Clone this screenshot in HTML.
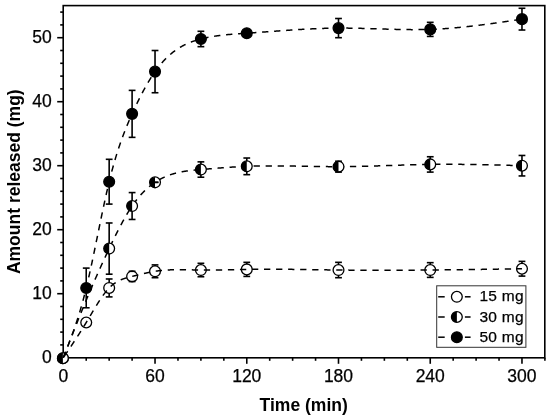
<!DOCTYPE html>
<html><head><meta charset="utf-8"><style>
html,body{margin:0;padding:0;background:#fff;width:550px;height:420px;overflow:hidden}
svg{display:block}
text{font-family:"Liberation Sans",Arial,sans-serif;stroke:#000;stroke-width:0.25px}
text[font-weight="bold"]{stroke:none}
</style></head><body>
<svg width="550" height="420" viewBox="0 0 550 420">
<rect width="550" height="420" fill="#fff"/>
<g fill="none" stroke="#000" stroke-width="1.6"><rect x="63.20" y="5.60" width="481.60" height="352.20" fill="none" stroke="#000" stroke-width="1.6"/>
<line x1="57.20" y1="357.70" x2="63.20" y2="357.70"/>
<line x1="60.20" y1="344.90" x2="63.20" y2="344.90"/>
<line x1="60.20" y1="332.10" x2="63.20" y2="332.10"/>
<line x1="60.20" y1="319.30" x2="63.20" y2="319.30"/>
<line x1="60.20" y1="306.50" x2="63.20" y2="306.50"/>
<line x1="57.20" y1="293.70" x2="63.20" y2="293.70"/>
<line x1="60.20" y1="280.90" x2="63.20" y2="280.90"/>
<line x1="60.20" y1="268.10" x2="63.20" y2="268.10"/>
<line x1="60.20" y1="255.30" x2="63.20" y2="255.30"/>
<line x1="60.20" y1="242.50" x2="63.20" y2="242.50"/>
<line x1="57.20" y1="229.70" x2="63.20" y2="229.70"/>
<line x1="60.20" y1="216.90" x2="63.20" y2="216.90"/>
<line x1="60.20" y1="204.10" x2="63.20" y2="204.10"/>
<line x1="60.20" y1="191.30" x2="63.20" y2="191.30"/>
<line x1="60.20" y1="178.50" x2="63.20" y2="178.50"/>
<line x1="57.20" y1="165.70" x2="63.20" y2="165.70"/>
<line x1="60.20" y1="152.90" x2="63.20" y2="152.90"/>
<line x1="60.20" y1="140.10" x2="63.20" y2="140.10"/>
<line x1="60.20" y1="127.30" x2="63.20" y2="127.30"/>
<line x1="60.20" y1="114.50" x2="63.20" y2="114.50"/>
<line x1="57.20" y1="101.70" x2="63.20" y2="101.70"/>
<line x1="60.20" y1="88.90" x2="63.20" y2="88.90"/>
<line x1="60.20" y1="76.10" x2="63.20" y2="76.10"/>
<line x1="60.20" y1="63.30" x2="63.20" y2="63.30"/>
<line x1="60.20" y1="50.50" x2="63.20" y2="50.50"/>
<line x1="57.20" y1="37.70" x2="63.20" y2="37.70"/>
<line x1="60.20" y1="24.90" x2="63.20" y2="24.90"/>
<line x1="60.20" y1="12.10" x2="63.20" y2="12.10"/>
<line x1="63.30" y1="357.80" x2="63.30" y2="363.80"/>
<line x1="86.23" y1="357.80" x2="86.23" y2="360.80"/>
<line x1="109.17" y1="357.80" x2="109.17" y2="360.80"/>
<line x1="132.10" y1="357.80" x2="132.10" y2="360.80"/>
<line x1="155.03" y1="357.80" x2="155.03" y2="363.80"/>
<line x1="177.97" y1="357.80" x2="177.97" y2="360.80"/>
<line x1="200.90" y1="357.80" x2="200.90" y2="360.80"/>
<line x1="223.83" y1="357.80" x2="223.83" y2="360.80"/>
<line x1="246.77" y1="357.80" x2="246.77" y2="363.80"/>
<line x1="269.70" y1="357.80" x2="269.70" y2="360.80"/>
<line x1="292.63" y1="357.80" x2="292.63" y2="360.80"/>
<line x1="315.57" y1="357.80" x2="315.57" y2="360.80"/>
<line x1="338.50" y1="357.80" x2="338.50" y2="363.80"/>
<line x1="361.44" y1="357.80" x2="361.44" y2="360.80"/>
<line x1="384.37" y1="357.80" x2="384.37" y2="360.80"/>
<line x1="407.30" y1="357.80" x2="407.30" y2="360.80"/>
<line x1="430.24" y1="357.80" x2="430.24" y2="363.80"/>
<line x1="453.17" y1="357.80" x2="453.17" y2="360.80"/>
<line x1="476.10" y1="357.80" x2="476.10" y2="360.80"/>
<line x1="499.04" y1="357.80" x2="499.04" y2="360.80"/>
<line x1="521.97" y1="357.80" x2="521.97" y2="363.80"/>
<line x1="544.90" y1="357.80" x2="544.90" y2="360.80"/></g>
<circle cx="62.90" cy="358.20" r="5.40" fill="#000" stroke="#000" stroke-width="1.30"/>
<circle cx="62.90" cy="358.20" r="5.40" fill="#fff" stroke="#000" stroke-width="1.30"/><path d="M62.90,352.80 A5.40,5.40 0 0 0 62.90,363.60 Z" fill="#000"/>
<polyline points="63.30,357.70 63.68,357.14 64.06,356.57 64.45,356.01 64.83,355.44 65.21,354.88 65.59,354.32 65.98,353.75 66.36,353.19 66.74,352.62 67.12,352.06 67.50,351.49 67.89,350.92 68.27,350.36 68.65,349.79 69.03,349.22 69.42,348.65 69.80,348.08 70.18,347.52 70.56,346.95 70.94,346.37 71.33,345.80 71.71,345.23 72.09,344.66 72.47,344.08 72.86,343.51 73.24,342.93 73.62,342.35 74.00,341.78 74.38,341.20 74.77,340.62 75.15,340.03 75.53,339.45 75.91,338.87 76.30,338.28 76.68,337.70 77.06,337.11 77.44,336.52 77.82,335.93 78.21,335.34 78.59,334.74 78.97,334.15 79.35,333.55 79.74,332.95 80.12,332.35 80.50,331.75 80.88,331.15 81.26,330.54 81.65,329.94 82.03,329.33 82.41,328.72 82.79,328.10 83.18,327.49 83.56,326.87 83.94,326.26 84.32,325.63 84.70,325.01 85.09,324.39 85.47,323.76 85.85,323.13 86.23,322.50 86.62,321.87 87.00,321.23 87.38,320.59 87.76,319.95 88.14,319.31 88.53,318.67 88.91,318.03 89.29,317.38 89.67,316.74 90.06,316.10 90.44,315.45 90.82,314.81 91.20,314.16 91.58,313.52 91.97,312.87 92.35,312.23 92.73,311.59 93.11,310.95 93.50,310.31 93.88,309.67 94.26,309.03 94.64,308.40 95.02,307.77 95.41,307.14 95.79,306.52 96.17,305.89 96.55,305.27 96.94,304.66 97.32,304.04 97.70,303.43 98.08,302.83 98.46,302.23 98.85,301.63 99.23,301.04 99.61,300.45 99.99,299.87 100.38,299.29 100.76,298.72 101.14,298.15 101.52,297.59 101.90,297.04 102.29,296.49 102.67,295.95 103.05,295.42 103.43,294.89 103.82,294.37 104.20,293.85 104.58,293.35 104.96,292.85 105.34,292.36 105.73,291.88 106.11,291.40 106.49,290.94 106.87,290.48 107.26,290.03 107.64,289.60 108.02,289.17 108.40,288.75 108.78,288.34 109.17,287.94 109.55,287.55 109.93,287.17 110.31,286.80 110.70,286.44 111.08,286.09 111.46,285.75 111.84,285.42 112.22,285.10 112.61,284.78 112.99,284.48 113.37,284.18 113.75,283.90 114.14,283.62 114.52,283.34 114.90,283.08 115.28,282.82 115.66,282.57 116.05,282.33 116.43,282.10 116.81,281.87 117.19,281.65 117.58,281.43 117.96,281.22 118.34,281.02 118.72,280.83 119.10,280.64 119.49,280.45 119.87,280.27 120.25,280.10 120.63,279.93 121.02,279.77 121.40,279.61 121.78,279.46 122.16,279.31 122.54,279.16 122.93,279.02 123.31,278.88 123.69,278.75 124.07,278.62 124.46,278.49 124.84,278.37 125.22,278.25 125.60,278.13 125.98,278.02 126.37,277.91 126.75,277.80 127.13,277.69 127.51,277.59 127.90,277.48 128.28,277.38 128.66,277.28 129.04,277.18 129.42,277.09 129.81,276.99 130.19,276.89 130.57,276.80 130.95,276.70 131.34,276.61 131.72,276.51 132.10,276.42 132.48,276.33 132.86,276.23 133.25,276.14 133.63,276.04 134.01,275.95 134.39,275.85 134.78,275.75 135.16,275.66 135.54,275.56 135.92,275.47 136.30,275.37 136.69,275.28 137.07,275.18 137.45,275.09 137.83,274.99 138.22,274.90 138.60,274.80 138.98,274.71 139.36,274.61 139.75,274.52 140.13,274.43 140.51,274.33 140.89,274.24 141.27,274.15 141.66,274.05 142.04,273.96 142.42,273.87 142.80,273.78 143.19,273.69 143.57,273.60 143.95,273.51 144.33,273.42 144.71,273.34 145.10,273.25 145.48,273.16 145.86,273.08 146.24,272.99 146.63,272.91 147.01,272.82 147.39,272.74 147.77,272.66 148.15,272.58 148.54,272.50 148.92,272.42 149.30,272.34 149.68,272.26 150.07,272.19 150.45,272.11 150.83,272.04 151.21,271.96 151.59,271.89 151.98,271.82 152.36,271.75 152.74,271.68 153.12,271.62 153.51,271.55 153.89,271.49 154.27,271.42 154.65,271.36 155.03,271.30 155.42,271.24 155.80,271.18 156.18,271.13 156.56,271.07 156.95,271.02 157.33,270.96 157.71,270.91 158.09,270.86 158.47,270.82 158.86,270.77 159.24,270.72 159.62,270.68 160.00,270.63 160.39,270.59 160.77,270.55 161.15,270.51 161.53,270.47 161.91,270.43 162.30,270.40 162.68,270.36 163.06,270.33 163.44,270.29 163.83,270.26 164.21,270.23 164.59,270.20 164.97,270.17 165.35,270.14 165.74,270.11 166.12,270.09 166.50,270.06 166.88,270.04 167.27,270.02 167.65,269.99 168.03,269.97 168.41,269.95 168.79,269.93 169.18,269.91 169.56,269.90 169.94,269.88 170.32,269.86 170.71,269.85 171.09,269.83 171.47,269.82 171.85,269.81 172.23,269.79 172.62,269.78 173.00,269.77 173.38,269.76 173.76,269.75 174.15,269.74 174.53,269.74 174.91,269.73 175.29,269.72 175.67,269.72 176.06,269.71 176.44,269.71 176.82,269.70 177.20,269.70 177.59,269.70 177.97,269.69 178.35,269.69 178.73,269.69 179.11,269.69 179.50,269.69 179.88,269.69 180.26,269.69 180.64,269.69 181.03,269.69 181.41,269.69 181.79,269.70 182.17,269.70 182.55,269.70 182.94,269.70 183.32,269.71 183.70,269.71 184.08,269.72 184.47,269.72 184.85,269.73 185.23,269.73 185.61,269.74 185.99,269.74 186.38,269.75 186.76,269.76 187.14,269.76 187.52,269.77 187.91,269.78 188.29,269.78 188.67,269.79 189.05,269.80 189.43,269.81 189.82,269.81 190.20,269.82 190.58,269.83 190.96,269.84 191.35,269.85 191.73,269.85 192.11,269.86 192.49,269.87 192.87,269.88 193.26,269.89 193.64,269.89 194.02,269.90 194.40,269.91 194.79,269.92 195.17,269.92 195.55,269.93 195.93,269.94 196.31,269.95 196.70,269.95 197.08,269.96 197.46,269.97 197.84,269.97 198.23,269.98 198.61,269.99 198.99,269.99 199.37,270.00 199.75,270.00 200.14,270.01 200.52,270.02 200.90,270.02 201.28,270.02 201.67,270.03 202.05,270.03 202.43,270.04 202.81,270.04 203.19,270.04 203.58,270.04 203.96,270.05 204.34,270.05 204.72,270.05 205.11,270.05 205.49,270.05 205.87,270.05 206.25,270.05 206.63,270.06 207.02,270.06 207.40,270.06 207.78,270.05 208.16,270.05 208.55,270.05 208.93,270.05 209.31,270.05 209.69,270.05 210.07,270.05 210.46,270.05 210.84,270.04 211.22,270.04 211.60,270.04 211.99,270.04 212.37,270.03 212.75,270.03 213.13,270.03 213.51,270.02 213.90,270.02 214.28,270.01 214.66,270.01 215.04,270.00 215.43,270.00 215.81,270.00 216.19,269.99 216.57,269.99 216.95,269.98 217.34,269.97 217.72,269.97 218.10,269.96 218.48,269.96 218.87,269.95 219.25,269.95 219.63,269.94 220.01,269.93 220.39,269.93 220.78,269.92 221.16,269.91 221.54,269.91 221.92,269.90 222.31,269.89 222.69,269.88 223.07,269.88 223.45,269.87 223.83,269.86 224.22,269.85 224.60,269.85 224.98,269.84 225.36,269.83 225.75,269.82 226.13,269.82 226.51,269.81 226.89,269.80 227.27,269.79 227.66,269.78 228.04,269.77 228.42,269.77 228.80,269.76 229.19,269.75 229.57,269.74 229.95,269.73 230.33,269.72 230.71,269.71 231.10,269.71 231.48,269.70 231.86,269.69 232.24,269.68 232.63,269.67 233.01,269.66 233.39,269.65 233.77,269.65 234.15,269.64 234.54,269.63 234.92,269.62 235.30,269.61 235.68,269.60 236.07,269.59 236.45,269.59 236.83,269.58 237.21,269.57 237.59,269.56 237.98,269.55 238.36,269.54 238.74,269.54 239.12,269.53 239.51,269.52 239.89,269.51 240.27,269.50 240.65,269.49 241.03,269.49 241.42,269.48 241.80,269.47 242.18,269.46 242.56,269.46 242.95,269.45 243.33,269.44 243.71,269.43 244.09,269.43 244.47,269.42 244.86,269.41 245.24,269.41 245.62,269.40 246.00,269.39 246.39,269.39 246.77,269.38 247.15,269.37 247.53,269.37 247.91,269.36 248.30,269.36 248.68,269.35 249.06,269.34 249.44,269.34 249.83,269.33 250.21,269.33 250.59,269.32 250.97,269.32 251.35,269.31 251.74,269.31 252.12,269.31 252.50,269.30 252.88,269.30 253.27,269.29 253.65,269.29 254.03,269.28 254.41,269.28 254.79,269.28 255.18,269.27 255.56,269.27 255.94,269.27 256.32,269.26 256.71,269.26 257.09,269.26 257.47,269.25 257.85,269.25 258.23,269.25 258.62,269.25 259.00,269.24 259.38,269.24 259.76,269.24 260.15,269.24 260.53,269.24 260.91,269.23 261.29,269.23 261.67,269.23 262.06,269.23 262.44,269.23 262.82,269.23 263.20,269.22 263.59,269.22 263.97,269.22 264.35,269.22 264.73,269.22 265.11,269.22 265.50,269.22 265.88,269.22 266.26,269.22 266.64,269.22 267.03,269.22 267.41,269.22 267.79,269.22 268.17,269.22 268.55,269.22 268.94,269.22 269.32,269.22 269.70,269.22 270.08,269.22 270.47,269.22 270.85,269.22 271.23,269.22 271.61,269.22 271.99,269.22 272.38,269.22 272.76,269.22 273.14,269.23 273.52,269.23 273.91,269.23 274.29,269.23 274.67,269.23 275.05,269.23 275.43,269.23 275.82,269.24 276.20,269.24 276.58,269.24 276.96,269.24 277.35,269.24 277.73,269.25 278.11,269.25 278.49,269.25 278.87,269.25 279.26,269.26 279.64,269.26 280.02,269.26 280.40,269.26 280.79,269.27 281.17,269.27 281.55,269.27 281.93,269.27 282.31,269.28 282.70,269.28 283.08,269.28 283.46,269.29 283.84,269.29 284.23,269.29 284.61,269.30 284.99,269.30 285.37,269.30 285.75,269.31 286.14,269.31 286.52,269.31 286.90,269.32 287.28,269.32 287.67,269.32 288.05,269.33 288.43,269.33 288.81,269.34 289.19,269.34 289.58,269.34 289.96,269.35 290.34,269.35 290.72,269.36 291.11,269.36 291.49,269.37 291.87,269.37 292.25,269.37 292.63,269.38 293.02,269.38 293.40,269.39 293.78,269.39 294.16,269.40 294.55,269.40 294.93,269.41 295.31,269.41 295.69,269.42 296.08,269.42 296.46,269.43 296.84,269.43 297.22,269.44 297.60,269.44 297.99,269.44 298.37,269.45 298.75,269.46 299.13,269.46 299.52,269.47 299.90,269.47 300.28,269.48 300.66,269.48 301.04,269.49 301.43,269.49 301.81,269.50 302.19,269.50 302.57,269.51 302.96,269.51 303.34,269.52 303.72,269.52 304.10,269.53 304.48,269.53 304.87,269.54 305.25,269.55 305.63,269.55 306.01,269.56 306.40,269.56 306.78,269.57 307.16,269.57 307.54,269.58 307.92,269.58 308.31,269.59 308.69,269.60 309.07,269.60 309.45,269.61 309.84,269.61 310.22,269.62 310.60,269.62 310.98,269.63 311.36,269.64 311.75,269.64 312.13,269.65 312.51,269.65 312.89,269.66 313.28,269.66 313.66,269.67 314.04,269.68 314.42,269.68 314.80,269.69 315.19,269.69 315.57,269.70 315.95,269.71 316.33,269.71 316.72,269.72 317.10,269.72 317.48,269.73 317.86,269.73 318.24,269.74 318.63,269.75 319.01,269.75 319.39,269.76 319.77,269.76 320.16,269.77 320.54,269.77 320.92,269.78 321.30,269.79 321.68,269.79 322.07,269.80 322.45,269.80 322.83,269.81 323.21,269.81 323.60,269.82 323.98,269.83 324.36,269.83 324.74,269.84 325.12,269.84 325.51,269.85 325.89,269.85 326.27,269.86 326.65,269.86 327.04,269.87 327.42,269.88 327.80,269.88 328.18,269.89 328.56,269.89 328.95,269.90 329.33,269.90 329.71,269.91 330.09,269.91 330.48,269.92 330.86,269.92 331.24,269.93 331.62,269.93 332.00,269.94 332.39,269.94 332.77,269.95 333.15,269.95 333.53,269.96 333.92,269.96 334.30,269.97 334.68,269.97 335.06,269.98 335.44,269.98 335.83,269.99 336.21,269.99 336.59,270.00 336.97,270.00 337.36,270.01 337.74,270.01 338.12,270.02 338.50,270.02 338.88,270.02 339.27,270.03 339.65,270.03 340.03,270.04 340.41,270.04 340.80,270.05 341.18,270.05 341.56,270.05 341.94,270.06 342.32,270.06 342.71,270.07 343.09,270.07 343.47,270.07 343.85,270.08 344.24,270.08 344.62,270.09 345.00,270.09 345.38,270.09 345.76,270.10 346.15,270.10 346.53,270.10 346.91,270.11 347.29,270.11 347.68,270.11 348.06,270.12 348.44,270.12 348.82,270.12 349.20,270.13 349.59,270.13 349.97,270.13 350.35,270.14 350.73,270.14 351.12,270.14 351.50,270.15 351.88,270.15 352.26,270.15 352.64,270.16 353.03,270.16 353.41,270.16 353.79,270.16 354.17,270.17 354.56,270.17 354.94,270.17 355.32,270.17 355.70,270.18 356.08,270.18 356.47,270.18 356.85,270.18 357.23,270.19 357.61,270.19 358.00,270.19 358.38,270.19 358.76,270.20 359.14,270.20 359.52,270.20 359.91,270.20 360.29,270.20 360.67,270.21 361.05,270.21 361.44,270.21 361.82,270.21 362.20,270.21 362.58,270.22 362.96,270.22 363.35,270.22 363.73,270.22 364.11,270.22 364.49,270.22 364.88,270.23 365.26,270.23 365.64,270.23 366.02,270.23 366.40,270.23 366.79,270.23 367.17,270.24 367.55,270.24 367.93,270.24 368.32,270.24 368.70,270.24 369.08,270.24 369.46,270.24 369.84,270.24 370.23,270.25 370.61,270.25 370.99,270.25 371.37,270.25 371.76,270.25 372.14,270.25 372.52,270.25 372.90,270.25 373.28,270.25 373.67,270.25 374.05,270.25 374.43,270.25 374.81,270.26 375.20,270.26 375.58,270.26 375.96,270.26 376.34,270.26 376.72,270.26 377.11,270.26 377.49,270.26 377.87,270.26 378.25,270.26 378.64,270.26 379.02,270.26 379.40,270.26 379.78,270.26 380.16,270.26 380.55,270.26 380.93,270.26 381.31,270.26 381.69,270.26 382.08,270.26 382.46,270.26 382.84,270.26 383.22,270.26 383.60,270.26 383.99,270.26 384.37,270.26 384.75,270.26 385.13,270.26 385.52,270.26 385.90,270.26 386.28,270.26 386.66,270.26 387.04,270.26 387.43,270.26 387.81,270.26 388.19,270.26 388.57,270.26 388.96,270.26 389.34,270.25 389.72,270.25 390.10,270.25 390.48,270.25 390.87,270.25 391.25,270.25 391.63,270.25 392.01,270.25 392.40,270.25 392.78,270.25 393.16,270.25 393.54,270.25 393.92,270.24 394.31,270.24 394.69,270.24 395.07,270.24 395.45,270.24 395.84,270.24 396.22,270.24 396.60,270.24 396.98,270.24 397.36,270.23 397.75,270.23 398.13,270.23 398.51,270.23 398.89,270.23 399.28,270.23 399.66,270.23 400.04,270.22 400.42,270.22 400.80,270.22 401.19,270.22 401.57,270.22 401.95,270.22 402.33,270.21 402.72,270.21 403.10,270.21 403.48,270.21 403.86,270.21 404.24,270.21 404.63,270.20 405.01,270.20 405.39,270.20 405.77,270.20 406.16,270.20 406.54,270.19 406.92,270.19 407.30,270.19 407.68,270.19 408.07,270.19 408.45,270.18 408.83,270.18 409.21,270.18 409.60,270.18 409.98,270.18 410.36,270.17 410.74,270.17 411.12,270.17 411.51,270.17 411.89,270.16 412.27,270.16 412.65,270.16 413.04,270.16 413.42,270.15 413.80,270.15 414.18,270.15 414.56,270.15 414.95,270.14 415.33,270.14 415.71,270.14 416.09,270.14 416.48,270.13 416.86,270.13 417.24,270.13 417.62,270.12 418.00,270.12 418.39,270.12 418.77,270.12 419.15,270.11 419.53,270.11 419.92,270.11 420.30,270.10 420.68,270.10 421.06,270.10 421.44,270.10 421.83,270.09 422.21,270.09 422.59,270.09 422.97,270.08 423.36,270.08 423.74,270.08 424.12,270.07 424.50,270.07 424.88,270.07 425.27,270.06 425.65,270.06 426.03,270.06 426.41,270.05 426.80,270.05 427.18,270.05 427.56,270.04 427.94,270.04 428.32,270.04 428.71,270.03 429.09,270.03 429.47,270.03 429.85,270.02 430.24,270.02 430.62,270.02 431.00,270.01 431.38,270.01 431.76,270.01 432.15,270.00 432.53,270.00 432.91,269.99 433.29,269.99 433.68,269.99 434.06,269.98 434.44,269.98 434.82,269.98 435.20,269.97 435.59,269.97 435.97,269.96 436.35,269.96 436.73,269.96 437.12,269.95 437.50,269.95 437.88,269.94 438.26,269.94 438.64,269.94 439.03,269.93 439.41,269.93 439.79,269.92 440.17,269.92 440.56,269.92 440.94,269.91 441.32,269.91 441.70,269.90 442.08,269.90 442.47,269.90 442.85,269.89 443.23,269.89 443.61,269.88 444.00,269.88 444.38,269.87 444.76,269.87 445.14,269.87 445.52,269.86 445.91,269.86 446.29,269.85 446.67,269.85 447.05,269.84 447.44,269.84 447.82,269.83 448.20,269.83 448.58,269.83 448.97,269.82 449.35,269.82 449.73,269.81 450.11,269.81 450.49,269.80 450.88,269.80 451.26,269.79 451.64,269.79 452.02,269.78 452.41,269.78 452.79,269.77 453.17,269.77 453.55,269.77 453.93,269.76 454.32,269.76 454.70,269.75 455.08,269.75 455.46,269.74 455.85,269.74 456.23,269.73 456.61,269.73 456.99,269.72 457.37,269.72 457.76,269.71 458.14,269.71 458.52,269.70 458.90,269.70 459.29,269.69 459.67,269.69 460.05,269.68 460.43,269.68 460.81,269.67 461.20,269.67 461.58,269.66 461.96,269.66 462.34,269.65 462.73,269.65 463.11,269.64 463.49,269.64 463.87,269.63 464.25,269.63 464.64,269.62 465.02,269.62 465.40,269.61 465.78,269.61 466.17,269.60 466.55,269.60 466.93,269.59 467.31,269.58 467.69,269.58 468.08,269.57 468.46,269.57 468.84,269.56 469.22,269.56 469.61,269.55 469.99,269.55 470.37,269.54 470.75,269.54 471.13,269.53 471.52,269.53 471.90,269.52 472.28,269.51 472.66,269.51 473.05,269.50 473.43,269.50 473.81,269.49 474.19,269.49 474.57,269.48 474.96,269.48 475.34,269.47 475.72,269.47 476.10,269.46 476.49,269.45 476.87,269.45 477.25,269.44 477.63,269.44 478.01,269.43 478.40,269.43 478.78,269.42 479.16,269.42 479.54,269.41 479.93,269.40 480.31,269.40 480.69,269.39 481.07,269.39 481.45,269.38 481.84,269.38 482.22,269.37 482.60,269.36 482.98,269.36 483.37,269.35 483.75,269.35 484.13,269.34 484.51,269.34 484.89,269.33 485.28,269.32 485.66,269.32 486.04,269.31 486.42,269.31 486.81,269.30 487.19,269.29 487.57,269.29 487.95,269.28 488.33,269.28 488.72,269.27 489.10,269.27 489.48,269.26 489.86,269.25 490.25,269.25 490.63,269.24 491.01,269.24 491.39,269.23 491.77,269.22 492.16,269.22 492.54,269.21 492.92,269.21 493.30,269.20 493.69,269.19 494.07,269.19 494.45,269.18 494.83,269.18 495.21,269.17 495.60,269.16 495.98,269.16 496.36,269.15 496.74,269.15 497.13,269.14 497.51,269.13 497.89,269.13 498.27,269.12 498.65,269.12 499.04,269.11 499.42,269.10 499.80,269.10 500.18,269.09 500.57,269.09 500.95,269.08 501.33,269.07 501.71,269.07 502.09,269.06 502.48,269.06 502.86,269.05 503.24,269.04 503.62,269.04 504.01,269.03 504.39,269.02 504.77,269.02 505.15,269.01 505.53,269.01 505.92,269.00 506.30,268.99 506.68,268.99 507.06,268.98 507.45,268.98 507.83,268.97 508.21,268.96 508.59,268.96 508.97,268.95 509.36,268.94 509.74,268.94 510.12,268.93 510.50,268.93 510.89,268.92 511.27,268.91 511.65,268.91 512.03,268.90 512.41,268.90 512.80,268.89 513.18,268.88 513.56,268.88 513.94,268.87 514.33,268.86 514.71,268.86 515.09,268.85 515.47,268.85 515.85,268.84 516.24,268.83 516.62,268.83 517.00,268.82 517.38,268.81 517.77,268.81 518.15,268.80 518.53,268.80 518.91,268.79 519.29,268.78 519.68,268.78 520.06,268.77 520.44,268.76 520.82,268.76 521.21,268.75 521.59,268.75 521.97,268.74" fill="none" stroke="#000" stroke-width="1.5" stroke-dasharray="6.3 5.74" stroke-dashoffset="-1.46"/>
<polyline points="63.30,357.70 63.68,356.72 64.06,355.74 64.45,354.76 64.83,353.77 65.21,352.79 65.59,351.81 65.98,350.83 66.36,349.85 66.74,348.87 67.12,347.89 67.50,346.91 67.89,345.93 68.27,344.95 68.65,343.98 69.03,343.00 69.42,342.02 69.80,341.04 70.18,340.07 70.56,339.09 70.94,338.12 71.33,337.15 71.71,336.17 72.09,335.20 72.47,334.23 72.86,333.26 73.24,332.29 73.62,331.32 74.00,330.35 74.38,329.38 74.77,328.42 75.15,327.45 75.53,326.49 75.91,325.53 76.30,324.57 76.68,323.61 77.06,322.65 77.44,321.69 77.82,320.73 78.21,319.78 78.59,318.82 78.97,317.87 79.35,316.92 79.74,315.97 80.12,315.02 80.50,314.08 80.88,313.13 81.26,312.19 81.65,311.25 82.03,310.31 82.41,309.37 82.79,308.44 83.18,307.50 83.56,306.57 83.94,305.64 84.32,304.71 84.70,303.79 85.09,302.86 85.47,301.94 85.85,301.02 86.23,300.10 86.62,299.18 87.00,298.27 87.38,297.36 87.76,296.45 88.14,295.54 88.53,294.64 88.91,293.73 89.29,292.83 89.67,291.93 90.06,291.03 90.44,290.14 90.82,289.25 91.20,288.35 91.58,287.47 91.97,286.58 92.35,285.69 92.73,284.81 93.11,283.93 93.50,283.05 93.88,282.17 94.26,281.30 94.64,280.42 95.02,279.55 95.41,278.68 95.79,277.82 96.17,276.95 96.55,276.09 96.94,275.22 97.32,274.36 97.70,273.51 98.08,272.65 98.46,271.80 98.85,270.94 99.23,270.09 99.61,269.24 99.99,268.40 100.38,267.55 100.76,266.71 101.14,265.87 101.52,265.03 101.90,264.19 102.29,263.35 102.67,262.52 103.05,261.68 103.43,260.85 103.82,260.02 104.20,259.19 104.58,258.37 104.96,257.54 105.34,256.72 105.73,255.90 106.11,255.08 106.49,254.26 106.87,253.44 107.26,252.63 107.64,251.82 108.02,251.01 108.40,250.20 108.78,249.39 109.17,248.58 109.55,247.77 109.93,246.97 110.31,246.17 110.70,245.37 111.08,244.57 111.46,243.77 111.84,242.98 112.22,242.19 112.61,241.40 112.99,240.61 113.37,239.83 113.75,239.04 114.14,238.26 114.52,237.49 114.90,236.71 115.28,235.94 115.66,235.17 116.05,234.41 116.43,233.64 116.81,232.88 117.19,232.13 117.58,231.37 117.96,230.62 118.34,229.88 118.72,229.13 119.10,228.39 119.49,227.66 119.87,226.93 120.25,226.20 120.63,225.48 121.02,224.76 121.40,224.04 121.78,223.33 122.16,222.62 122.54,221.92 122.93,221.22 123.31,220.53 123.69,219.84 124.07,219.15 124.46,218.47 124.84,217.80 125.22,217.13 125.60,216.46 125.98,215.81 126.37,215.15 126.75,214.50 127.13,213.86 127.51,213.22 127.90,212.59 128.28,211.96 128.66,211.34 129.04,210.72 129.42,210.11 129.81,209.51 130.19,208.91 130.57,208.32 130.95,207.74 131.34,207.16 131.72,206.59 132.10,206.02 132.48,205.46 132.86,204.91 133.25,204.36 133.63,203.82 134.01,203.29 134.39,202.76 134.78,202.24 135.16,201.72 135.54,201.21 135.92,200.71 136.30,200.22 136.69,199.73 137.07,199.24 137.45,198.76 137.83,198.29 138.22,197.82 138.60,197.36 138.98,196.91 139.36,196.46 139.75,196.01 140.13,195.57 140.51,195.14 140.89,194.71 141.27,194.29 141.66,193.87 142.04,193.46 142.42,193.06 142.80,192.66 143.19,192.26 143.57,191.87 143.95,191.49 144.33,191.11 144.71,190.73 145.10,190.36 145.48,190.00 145.86,189.64 146.24,189.28 146.63,188.93 147.01,188.59 147.39,188.24 147.77,187.91 148.15,187.58 148.54,187.25 148.92,186.93 149.30,186.61 149.68,186.30 150.07,185.99 150.45,185.68 150.83,185.38 151.21,185.08 151.59,184.79 151.98,184.50 152.36,184.22 152.74,183.94 153.12,183.66 153.51,183.39 153.89,183.12 154.27,182.86 154.65,182.60 155.03,182.34 155.42,182.09 155.80,181.84 156.18,181.59 156.56,181.35 156.95,181.11 157.33,180.88 157.71,180.64 158.09,180.42 158.47,180.19 158.86,179.97 159.24,179.75 159.62,179.54 160.00,179.33 160.39,179.12 160.77,178.91 161.15,178.71 161.53,178.52 161.91,178.32 162.30,178.13 162.68,177.94 163.06,177.75 163.44,177.57 163.83,177.39 164.21,177.22 164.59,177.04 164.97,176.87 165.35,176.71 165.74,176.54 166.12,176.38 166.50,176.22 166.88,176.06 167.27,175.91 167.65,175.76 168.03,175.61 168.41,175.47 168.79,175.32 169.18,175.18 169.56,175.04 169.94,174.91 170.32,174.78 170.71,174.65 171.09,174.52 171.47,174.39 171.85,174.27 172.23,174.15 172.62,174.03 173.00,173.92 173.38,173.80 173.76,173.69 174.15,173.58 174.53,173.47 174.91,173.37 175.29,173.27 175.67,173.17 176.06,173.07 176.44,172.97 176.82,172.88 177.20,172.78 177.59,172.69 177.97,172.60 178.35,172.52 178.73,172.43 179.11,172.35 179.50,172.26 179.88,172.18 180.26,172.11 180.64,172.03 181.03,171.95 181.41,171.88 181.79,171.81 182.17,171.74 182.55,171.67 182.94,171.60 183.32,171.54 183.70,171.47 184.08,171.41 184.47,171.35 184.85,171.29 185.23,171.23 185.61,171.17 185.99,171.11 186.38,171.06 186.76,171.00 187.14,170.95 187.52,170.90 187.91,170.85 188.29,170.80 188.67,170.75 189.05,170.70 189.43,170.65 189.82,170.61 190.20,170.56 190.58,170.52 190.96,170.48 191.35,170.43 191.73,170.39 192.11,170.35 192.49,170.31 192.87,170.27 193.26,170.23 193.64,170.19 194.02,170.15 194.40,170.12 194.79,170.08 195.17,170.04 195.55,170.01 195.93,169.97 196.31,169.94 196.70,169.90 197.08,169.87 197.46,169.84 197.84,169.80 198.23,169.77 198.61,169.74 198.99,169.70 199.37,169.67 199.75,169.64 200.14,169.61 200.52,169.57 200.90,169.54 201.28,169.51 201.67,169.48 202.05,169.44 202.43,169.41 202.81,169.38 203.19,169.35 203.58,169.31 203.96,169.28 204.34,169.25 204.72,169.22 205.11,169.18 205.49,169.15 205.87,169.12 206.25,169.09 206.63,169.05 207.02,169.02 207.40,168.99 207.78,168.96 208.16,168.93 208.55,168.89 208.93,168.86 209.31,168.83 209.69,168.80 210.07,168.77 210.46,168.73 210.84,168.70 211.22,168.67 211.60,168.64 211.99,168.61 212.37,168.58 212.75,168.54 213.13,168.51 213.51,168.48 213.90,168.45 214.28,168.42 214.66,168.39 215.04,168.36 215.43,168.33 215.81,168.30 216.19,168.27 216.57,168.24 216.95,168.21 217.34,168.18 217.72,168.14 218.10,168.11 218.48,168.08 218.87,168.05 219.25,168.03 219.63,168.00 220.01,167.97 220.39,167.94 220.78,167.91 221.16,167.88 221.54,167.85 221.92,167.82 222.31,167.79 222.69,167.76 223.07,167.73 223.45,167.71 223.83,167.68 224.22,167.65 224.60,167.62 224.98,167.59 225.36,167.57 225.75,167.54 226.13,167.51 226.51,167.48 226.89,167.46 227.27,167.43 227.66,167.40 228.04,167.38 228.42,167.35 228.80,167.33 229.19,167.30 229.57,167.27 229.95,167.25 230.33,167.22 230.71,167.20 231.10,167.17 231.48,167.15 231.86,167.12 232.24,167.10 232.63,167.07 233.01,167.05 233.39,167.03 233.77,167.00 234.15,166.98 234.54,166.96 234.92,166.93 235.30,166.91 235.68,166.89 236.07,166.87 236.45,166.84 236.83,166.82 237.21,166.80 237.59,166.78 237.98,166.76 238.36,166.74 238.74,166.72 239.12,166.70 239.51,166.68 239.89,166.66 240.27,166.64 240.65,166.62 241.03,166.60 241.42,166.58 241.80,166.56 242.18,166.54 242.56,166.52 242.95,166.50 243.33,166.49 243.71,166.47 244.09,166.45 244.47,166.44 244.86,166.42 245.24,166.40 245.62,166.39 246.00,166.37 246.39,166.36 246.77,166.34 247.15,166.33 247.53,166.31 247.91,166.30 248.30,166.28 248.68,166.27 249.06,166.26 249.44,166.24 249.83,166.23 250.21,166.22 250.59,166.20 250.97,166.19 251.35,166.18 251.74,166.17 252.12,166.16 252.50,166.15 252.88,166.14 253.27,166.13 253.65,166.11 254.03,166.10 254.41,166.10 254.79,166.09 255.18,166.08 255.56,166.07 255.94,166.06 256.32,166.05 256.71,166.04 257.09,166.03 257.47,166.03 257.85,166.02 258.23,166.01 258.62,166.00 259.00,166.00 259.38,165.99 259.76,165.98 260.15,165.98 260.53,165.97 260.91,165.97 261.29,165.96 261.67,165.96 262.06,165.95 262.44,165.95 262.82,165.94 263.20,165.94 263.59,165.93 263.97,165.93 264.35,165.93 264.73,165.92 265.11,165.92 265.50,165.92 265.88,165.91 266.26,165.91 266.64,165.91 267.03,165.90 267.41,165.90 267.79,165.90 268.17,165.90 268.55,165.90 268.94,165.90 269.32,165.89 269.70,165.89 270.08,165.89 270.47,165.89 270.85,165.89 271.23,165.89 271.61,165.89 271.99,165.89 272.38,165.89 272.76,165.89 273.14,165.89 273.52,165.89 273.91,165.89 274.29,165.89 274.67,165.89 275.05,165.89 275.43,165.90 275.82,165.90 276.20,165.90 276.58,165.90 276.96,165.90 277.35,165.90 277.73,165.91 278.11,165.91 278.49,165.91 278.87,165.91 279.26,165.92 279.64,165.92 280.02,165.92 280.40,165.93 280.79,165.93 281.17,165.93 281.55,165.94 281.93,165.94 282.31,165.94 282.70,165.95 283.08,165.95 283.46,165.95 283.84,165.96 284.23,165.96 284.61,165.97 284.99,165.97 285.37,165.98 285.75,165.98 286.14,165.98 286.52,165.99 286.90,165.99 287.28,166.00 287.67,166.00 288.05,166.01 288.43,166.01 288.81,166.02 289.19,166.02 289.58,166.03 289.96,166.04 290.34,166.04 290.72,166.05 291.11,166.05 291.49,166.06 291.87,166.06 292.25,166.07 292.63,166.08 293.02,166.08 293.40,166.09 293.78,166.09 294.16,166.10 294.55,166.11 294.93,166.11 295.31,166.12 295.69,166.13 296.08,166.13 296.46,166.14 296.84,166.14 297.22,166.15 297.60,166.16 297.99,166.16 298.37,166.17 298.75,166.18 299.13,166.18 299.52,166.19 299.90,166.20 300.28,166.20 300.66,166.21 301.04,166.22 301.43,166.22 301.81,166.23 302.19,166.24 302.57,166.25 302.96,166.25 303.34,166.26 303.72,166.27 304.10,166.27 304.48,166.28 304.87,166.29 305.25,166.29 305.63,166.30 306.01,166.31 306.40,166.31 306.78,166.32 307.16,166.33 307.54,166.33 307.92,166.34 308.31,166.35 308.69,166.35 309.07,166.36 309.45,166.37 309.84,166.37 310.22,166.38 310.60,166.39 310.98,166.39 311.36,166.40 311.75,166.41 312.13,166.41 312.51,166.42 312.89,166.43 313.28,166.43 313.66,166.44 314.04,166.45 314.42,166.45 314.80,166.46 315.19,166.46 315.57,166.47 315.95,166.48 316.33,166.48 316.72,166.49 317.10,166.49 317.48,166.50 317.86,166.51 318.24,166.51 318.63,166.52 319.01,166.52 319.39,166.53 319.77,166.53 320.16,166.54 320.54,166.54 320.92,166.55 321.30,166.55 321.68,166.56 322.07,166.56 322.45,166.57 322.83,166.57 323.21,166.58 323.60,166.58 323.98,166.59 324.36,166.59 324.74,166.59 325.12,166.60 325.51,166.60 325.89,166.61 326.27,166.61 326.65,166.61 327.04,166.62 327.42,166.62 327.80,166.62 328.18,166.63 328.56,166.63 328.95,166.63 329.33,166.64 329.71,166.64 330.09,166.64 330.48,166.64 330.86,166.65 331.24,166.65 331.62,166.65 332.00,166.65 332.39,166.65 332.77,166.65 333.15,166.66 333.53,166.66 333.92,166.66 334.30,166.66 334.68,166.66 335.06,166.66 335.44,166.66 335.83,166.66 336.21,166.66 336.59,166.66 336.97,166.66 337.36,166.66 337.74,166.66 338.12,166.66 338.50,166.66 338.88,166.66 339.27,166.66 339.65,166.66 340.03,166.66 340.41,166.65 340.80,166.65 341.18,166.65 341.56,166.65 341.94,166.65 342.32,166.64 342.71,166.64 343.09,166.64 343.47,166.63 343.85,166.63 344.24,166.63 344.62,166.62 345.00,166.62 345.38,166.62 345.76,166.61 346.15,166.61 346.53,166.61 346.91,166.60 347.29,166.60 347.68,166.59 348.06,166.59 348.44,166.58 348.82,166.58 349.20,166.57 349.59,166.57 349.97,166.56 350.35,166.56 350.73,166.55 351.12,166.54 351.50,166.54 351.88,166.53 352.26,166.53 352.64,166.52 353.03,166.51 353.41,166.51 353.79,166.50 354.17,166.49 354.56,166.49 354.94,166.48 355.32,166.47 355.70,166.46 356.08,166.46 356.47,166.45 356.85,166.44 357.23,166.43 357.61,166.43 358.00,166.42 358.38,166.41 358.76,166.40 359.14,166.39 359.52,166.39 359.91,166.38 360.29,166.37 360.67,166.36 361.05,166.35 361.44,166.34 361.82,166.33 362.20,166.32 362.58,166.31 362.96,166.31 363.35,166.30 363.73,166.29 364.11,166.28 364.49,166.27 364.88,166.26 365.26,166.25 365.64,166.24 366.02,166.23 366.40,166.22 366.79,166.21 367.17,166.20 367.55,166.19 367.93,166.18 368.32,166.17 368.70,166.16 369.08,166.15 369.46,166.13 369.84,166.12 370.23,166.11 370.61,166.10 370.99,166.09 371.37,166.08 371.76,166.07 372.14,166.06 372.52,166.05 372.90,166.04 373.28,166.02 373.67,166.01 374.05,166.00 374.43,165.99 374.81,165.98 375.20,165.97 375.58,165.96 375.96,165.94 376.34,165.93 376.72,165.92 377.11,165.91 377.49,165.90 377.87,165.88 378.25,165.87 378.64,165.86 379.02,165.85 379.40,165.84 379.78,165.82 380.16,165.81 380.55,165.80 380.93,165.79 381.31,165.78 381.69,165.76 382.08,165.75 382.46,165.74 382.84,165.73 383.22,165.71 383.60,165.70 383.99,165.69 384.37,165.68 384.75,165.67 385.13,165.65 385.52,165.64 385.90,165.63 386.28,165.62 386.66,165.60 387.04,165.59 387.43,165.58 387.81,165.57 388.19,165.55 388.57,165.54 388.96,165.53 389.34,165.52 389.72,165.50 390.10,165.49 390.48,165.48 390.87,165.46 391.25,165.45 391.63,165.44 392.01,165.43 392.40,165.41 392.78,165.40 393.16,165.39 393.54,165.38 393.92,165.36 394.31,165.35 394.69,165.34 395.07,165.33 395.45,165.31 395.84,165.30 396.22,165.29 396.60,165.28 396.98,165.27 397.36,165.25 397.75,165.24 398.13,165.23 398.51,165.22 398.89,165.20 399.28,165.19 399.66,165.18 400.04,165.17 400.42,165.16 400.80,165.14 401.19,165.13 401.57,165.12 401.95,165.11 402.33,165.10 402.72,165.08 403.10,165.07 403.48,165.06 403.86,165.05 404.24,165.04 404.63,165.02 405.01,165.01 405.39,165.00 405.77,164.99 406.16,164.98 406.54,164.97 406.92,164.96 407.30,164.94 407.68,164.93 408.07,164.92 408.45,164.91 408.83,164.90 409.21,164.89 409.60,164.88 409.98,164.87 410.36,164.86 410.74,164.85 411.12,164.84 411.51,164.82 411.89,164.81 412.27,164.80 412.65,164.79 413.04,164.78 413.42,164.77 413.80,164.76 414.18,164.75 414.56,164.74 414.95,164.73 415.33,164.72 415.71,164.71 416.09,164.70 416.48,164.69 416.86,164.68 417.24,164.68 417.62,164.67 418.00,164.66 418.39,164.65 418.77,164.64 419.15,164.63 419.53,164.62 419.92,164.61 420.30,164.60 420.68,164.60 421.06,164.59 421.44,164.58 421.83,164.57 422.21,164.56 422.59,164.55 422.97,164.55 423.36,164.54 423.74,164.53 424.12,164.52 424.50,164.52 424.88,164.51 425.27,164.50 425.65,164.49 426.03,164.49 426.41,164.48 426.80,164.47 427.18,164.47 427.56,164.46 427.94,164.46 428.32,164.45 428.71,164.44 429.09,164.44 429.47,164.43 429.85,164.43 430.24,164.42 430.62,164.41 431.00,164.41 431.38,164.40 431.76,164.40 432.15,164.39 432.53,164.39 432.91,164.39 433.29,164.38 433.68,164.38 434.06,164.37 434.44,164.37 434.82,164.36 435.20,164.36 435.59,164.36 435.97,164.35 436.35,164.35 436.73,164.35 437.12,164.34 437.50,164.34 437.88,164.34 438.26,164.33 438.64,164.33 439.03,164.33 439.41,164.33 439.79,164.32 440.17,164.32 440.56,164.32 440.94,164.32 441.32,164.32 441.70,164.31 442.08,164.31 442.47,164.31 442.85,164.31 443.23,164.31 443.61,164.31 444.00,164.31 444.38,164.31 444.76,164.30 445.14,164.30 445.52,164.30 445.91,164.30 446.29,164.30 446.67,164.30 447.05,164.30 447.44,164.30 447.82,164.30 448.20,164.30 448.58,164.30 448.97,164.30 449.35,164.30 449.73,164.30 450.11,164.31 450.49,164.31 450.88,164.31 451.26,164.31 451.64,164.31 452.02,164.31 452.41,164.31 452.79,164.31 453.17,164.31 453.55,164.32 453.93,164.32 454.32,164.32 454.70,164.32 455.08,164.32 455.46,164.33 455.85,164.33 456.23,164.33 456.61,164.33 456.99,164.34 457.37,164.34 457.76,164.34 458.14,164.34 458.52,164.35 458.90,164.35 459.29,164.35 459.67,164.36 460.05,164.36 460.43,164.36 460.81,164.37 461.20,164.37 461.58,164.37 461.96,164.38 462.34,164.38 462.73,164.39 463.11,164.39 463.49,164.39 463.87,164.40 464.25,164.40 464.64,164.41 465.02,164.41 465.40,164.42 465.78,164.42 466.17,164.42 466.55,164.43 466.93,164.43 467.31,164.44 467.69,164.44 468.08,164.45 468.46,164.45 468.84,164.46 469.22,164.47 469.61,164.47 469.99,164.48 470.37,164.48 470.75,164.49 471.13,164.49 471.52,164.50 471.90,164.50 472.28,164.51 472.66,164.52 473.05,164.52 473.43,164.53 473.81,164.54 474.19,164.54 474.57,164.55 474.96,164.55 475.34,164.56 475.72,164.57 476.10,164.57 476.49,164.58 476.87,164.59 477.25,164.59 477.63,164.60 478.01,164.61 478.40,164.62 478.78,164.62 479.16,164.63 479.54,164.64 479.93,164.64 480.31,164.65 480.69,164.66 481.07,164.67 481.45,164.67 481.84,164.68 482.22,164.69 482.60,164.70 482.98,164.70 483.37,164.71 483.75,164.72 484.13,164.73 484.51,164.74 484.89,164.74 485.28,164.75 485.66,164.76 486.04,164.77 486.42,164.78 486.81,164.79 487.19,164.79 487.57,164.80 487.95,164.81 488.33,164.82 488.72,164.83 489.10,164.84 489.48,164.85 489.86,164.85 490.25,164.86 490.63,164.87 491.01,164.88 491.39,164.89 491.77,164.90 492.16,164.91 492.54,164.92 492.92,164.93 493.30,164.93 493.69,164.94 494.07,164.95 494.45,164.96 494.83,164.97 495.21,164.98 495.60,164.99 495.98,165.00 496.36,165.01 496.74,165.02 497.13,165.03 497.51,165.04 497.89,165.05 498.27,165.06 498.65,165.07 499.04,165.08 499.42,165.09 499.80,165.10 500.18,165.11 500.57,165.12 500.95,165.13 501.33,165.14 501.71,165.15 502.09,165.16 502.48,165.17 502.86,165.18 503.24,165.19 503.62,165.20 504.01,165.21 504.39,165.22 504.77,165.23 505.15,165.24 505.53,165.25 505.92,165.26 506.30,165.27 506.68,165.28 507.06,165.29 507.45,165.30 507.83,165.31 508.21,165.32 508.59,165.33 508.97,165.34 509.36,165.35 509.74,165.36 510.12,165.37 510.50,165.38 510.89,165.39 511.27,165.40 511.65,165.41 512.03,165.42 512.41,165.43 512.80,165.44 513.18,165.45 513.56,165.46 513.94,165.48 514.33,165.49 514.71,165.50 515.09,165.51 515.47,165.52 515.85,165.53 516.24,165.54 516.62,165.55 517.00,165.56 517.38,165.57 517.77,165.58 518.15,165.59 518.53,165.60 518.91,165.61 519.29,165.62 519.68,165.64 520.06,165.65 520.44,165.66 520.82,165.67 521.21,165.68 521.59,165.69 521.97,165.70" fill="none" stroke="#000" stroke-width="1.5" stroke-dasharray="6.3 5.74" stroke-dashoffset="0.00"/>
<polyline points="63.30,357.70 63.68,356.74 64.06,355.78 64.45,354.82 64.83,353.85 65.21,352.89 65.59,351.92 65.98,350.96 66.36,349.99 66.74,349.01 67.12,348.04 67.50,347.06 67.89,346.08 68.27,345.09 68.65,344.10 69.03,343.10 69.42,342.10 69.80,341.09 70.18,340.08 70.56,339.06 70.94,338.04 71.33,337.01 71.71,335.97 72.09,334.92 72.47,333.87 72.86,332.81 73.24,331.74 73.62,330.66 74.00,329.57 74.38,328.47 74.77,327.37 75.15,326.25 75.53,325.12 75.91,323.98 76.30,322.83 76.68,321.67 77.06,320.50 77.44,319.31 77.82,318.12 78.21,316.91 78.59,315.68 78.97,314.45 79.35,313.20 79.74,311.93 80.12,310.65 80.50,309.36 80.88,308.05 81.26,306.72 81.65,305.38 82.03,304.03 82.41,302.65 82.79,301.26 83.18,299.86 83.56,298.43 83.94,296.99 84.32,295.53 84.70,294.05 85.09,292.55 85.47,291.03 85.85,289.50 86.23,287.94 86.62,286.36 87.00,284.77 87.38,283.15 87.76,281.52 88.14,279.87 88.53,278.20 88.91,276.52 89.29,274.82 89.67,273.10 90.06,271.37 90.44,269.63 90.82,267.88 91.20,266.11 91.58,264.33 91.97,262.54 92.35,260.74 92.73,258.93 93.11,257.12 93.50,255.29 93.88,253.46 94.26,251.62 94.64,249.77 95.02,247.92 95.41,246.06 95.79,244.20 96.17,242.34 96.55,240.47 96.94,238.60 97.32,236.73 97.70,234.86 98.08,232.99 98.46,231.12 98.85,229.25 99.23,227.38 99.61,225.52 99.99,223.66 100.38,221.80 100.76,219.95 101.14,218.10 101.52,216.26 101.90,214.42 102.29,212.59 102.67,210.77 103.05,208.96 103.43,207.16 103.82,205.37 104.20,203.59 104.58,201.82 104.96,200.06 105.34,198.31 105.73,196.58 106.11,194.86 106.49,193.16 106.87,191.47 107.26,189.80 107.64,188.14 108.02,186.50 108.40,184.88 108.78,183.28 109.17,181.70 109.55,180.14 109.93,178.59 110.31,177.07 110.70,175.57 111.08,174.08 111.46,172.62 111.84,171.17 112.22,169.74 112.61,168.33 112.99,166.93 113.37,165.56 113.75,164.20 114.14,162.85 114.52,161.53 114.90,160.22 115.28,158.92 115.66,157.64 116.05,156.38 116.43,155.13 116.81,153.90 117.19,152.68 117.58,151.48 117.96,150.29 118.34,149.12 118.72,147.96 119.10,146.81 119.49,145.67 119.87,144.55 120.25,143.44 120.63,142.34 121.02,141.26 121.40,140.19 121.78,139.12 122.16,138.07 122.54,137.03 122.93,136.01 123.31,134.99 123.69,133.98 124.07,132.98 124.46,131.99 124.84,131.02 125.22,130.05 125.60,129.09 125.98,128.13 126.37,127.19 126.75,126.25 127.13,125.33 127.51,124.41 127.90,123.49 128.28,122.59 128.66,121.69 129.04,120.80 129.42,119.91 129.81,119.03 130.19,118.16 130.57,117.29 130.95,116.42 131.34,115.56 131.72,114.71 132.10,113.86 132.48,113.01 132.86,112.17 133.25,111.34 133.63,110.50 134.01,109.67 134.39,108.85 134.78,108.03 135.16,107.21 135.54,106.40 135.92,105.60 136.30,104.79 136.69,104.00 137.07,103.20 137.45,102.41 137.83,101.63 138.22,100.85 138.60,100.08 138.98,99.31 139.36,98.54 139.75,97.78 140.13,97.02 140.51,96.27 140.89,95.53 141.27,94.78 141.66,94.05 142.04,93.32 142.42,92.59 142.80,91.87 143.19,91.15 143.57,90.44 143.95,89.73 144.33,89.03 144.71,88.34 145.10,87.65 145.48,86.96 145.86,86.28 146.24,85.61 146.63,84.94 147.01,84.27 147.39,83.61 147.77,82.96 148.15,82.31 148.54,81.67 148.92,81.03 149.30,80.40 149.68,79.78 150.07,79.16 150.45,78.54 150.83,77.93 151.21,77.33 151.59,76.73 151.98,76.14 152.36,75.55 152.74,74.97 153.12,74.40 153.51,73.83 153.89,73.27 154.27,72.71 154.65,72.16 155.03,71.62 155.42,71.08 155.80,70.55 156.18,70.02 156.56,69.50 156.95,68.99 157.33,68.48 157.71,67.98 158.09,67.48 158.47,66.99 158.86,66.51 159.24,66.03 159.62,65.55 160.00,65.08 160.39,64.62 160.77,64.17 161.15,63.71 161.53,63.27 161.91,62.83 162.30,62.39 162.68,61.96 163.06,61.54 163.44,61.12 163.83,60.70 164.21,60.29 164.59,59.89 164.97,59.49 165.35,59.10 165.74,58.71 166.12,58.32 166.50,57.94 166.88,57.57 167.27,57.20 167.65,56.83 168.03,56.47 168.41,56.12 168.79,55.77 169.18,55.42 169.56,55.08 169.94,54.75 170.32,54.41 170.71,54.09 171.09,53.76 171.47,53.44 171.85,53.13 172.23,52.82 172.62,52.51 173.00,52.21 173.38,51.91 173.76,51.62 174.15,51.33 174.53,51.05 174.91,50.77 175.29,50.49 175.67,50.22 176.06,49.95 176.44,49.68 176.82,49.42 177.20,49.16 177.59,48.91 177.97,48.66 178.35,48.41 178.73,48.17 179.11,47.93 179.50,47.70 179.88,47.46 180.26,47.24 180.64,47.01 181.03,46.79 181.41,46.57 181.79,46.36 182.17,46.14 182.55,45.94 182.94,45.73 183.32,45.53 183.70,45.33 184.08,45.13 184.47,44.94 184.85,44.75 185.23,44.57 185.61,44.38 185.99,44.20 186.38,44.02 186.76,43.85 187.14,43.67 187.52,43.51 187.91,43.34 188.29,43.17 188.67,43.01 189.05,42.85 189.43,42.70 189.82,42.54 190.20,42.39 190.58,42.24 190.96,42.09 191.35,41.95 191.73,41.81 192.11,41.67 192.49,41.53 192.87,41.39 193.26,41.26 193.64,41.13 194.02,41.00 194.40,40.87 194.79,40.75 195.17,40.62 195.55,40.50 195.93,40.38 196.31,40.27 196.70,40.15 197.08,40.04 197.46,39.92 197.84,39.81 198.23,39.70 198.61,39.60 198.99,39.49 199.37,39.38 199.75,39.28 200.14,39.18 200.52,39.08 200.90,38.98 201.28,38.88 201.67,38.79 202.05,38.69 202.43,38.60 202.81,38.50 203.19,38.41 203.58,38.32 203.96,38.23 204.34,38.15 204.72,38.06 205.11,37.97 205.49,37.89 205.87,37.81 206.25,37.73 206.63,37.64 207.02,37.57 207.40,37.49 207.78,37.41 208.16,37.33 208.55,37.26 208.93,37.18 209.31,37.11 209.69,37.04 210.07,36.97 210.46,36.90 210.84,36.83 211.22,36.76 211.60,36.69 211.99,36.63 212.37,36.56 212.75,36.50 213.13,36.44 213.51,36.37 213.90,36.31 214.28,36.25 214.66,36.19 215.04,36.13 215.43,36.08 215.81,36.02 216.19,35.96 216.57,35.91 216.95,35.86 217.34,35.80 217.72,35.75 218.10,35.70 218.48,35.65 218.87,35.60 219.25,35.55 219.63,35.50 220.01,35.45 220.39,35.40 220.78,35.36 221.16,35.31 221.54,35.26 221.92,35.22 222.31,35.18 222.69,35.13 223.07,35.09 223.45,35.05 223.83,35.01 224.22,34.97 224.60,34.93 224.98,34.89 225.36,34.85 225.75,34.81 226.13,34.77 226.51,34.73 226.89,34.70 227.27,34.66 227.66,34.62 228.04,34.59 228.42,34.55 228.80,34.52 229.19,34.49 229.57,34.45 229.95,34.42 230.33,34.39 230.71,34.36 231.10,34.32 231.48,34.29 231.86,34.26 232.24,34.23 232.63,34.20 233.01,34.17 233.39,34.14 233.77,34.11 234.15,34.08 234.54,34.05 234.92,34.02 235.30,34.00 235.68,33.97 236.07,33.94 236.45,33.91 236.83,33.89 237.21,33.86 237.59,33.83 237.98,33.81 238.36,33.78 238.74,33.75 239.12,33.73 239.51,33.70 239.89,33.68 240.27,33.65 240.65,33.62 241.03,33.60 241.42,33.57 241.80,33.55 242.18,33.52 242.56,33.50 242.95,33.47 243.33,33.45 243.71,33.42 244.09,33.40 244.47,33.37 244.86,33.35 245.24,33.32 245.62,33.30 246.00,33.27 246.39,33.25 246.77,33.22 247.15,33.19 247.53,33.17 247.91,33.14 248.30,33.12 248.68,33.09 249.06,33.07 249.44,33.04 249.83,33.01 250.21,32.99 250.59,32.96 250.97,32.93 251.35,32.91 251.74,32.88 252.12,32.86 252.50,32.83 252.88,32.80 253.27,32.78 253.65,32.75 254.03,32.72 254.41,32.69 254.79,32.67 255.18,32.64 255.56,32.61 255.94,32.59 256.32,32.56 256.71,32.53 257.09,32.50 257.47,32.48 257.85,32.45 258.23,32.42 258.62,32.39 259.00,32.37 259.38,32.34 259.76,32.31 260.15,32.28 260.53,32.26 260.91,32.23 261.29,32.20 261.67,32.17 262.06,32.15 262.44,32.12 262.82,32.09 263.20,32.06 263.59,32.03 263.97,32.01 264.35,31.98 264.73,31.95 265.11,31.92 265.50,31.89 265.88,31.87 266.26,31.84 266.64,31.81 267.03,31.78 267.41,31.75 267.79,31.73 268.17,31.70 268.55,31.67 268.94,31.64 269.32,31.61 269.70,31.59 270.08,31.56 270.47,31.53 270.85,31.50 271.23,31.47 271.61,31.45 271.99,31.42 272.38,31.39 272.76,31.36 273.14,31.33 273.52,31.31 273.91,31.28 274.29,31.25 274.67,31.22 275.05,31.20 275.43,31.17 275.82,31.14 276.20,31.11 276.58,31.08 276.96,31.06 277.35,31.03 277.73,31.00 278.11,30.97 278.49,30.95 278.87,30.92 279.26,30.89 279.64,30.86 280.02,30.84 280.40,30.81 280.79,30.78 281.17,30.75 281.55,30.73 281.93,30.70 282.31,30.67 282.70,30.65 283.08,30.62 283.46,30.59 283.84,30.56 284.23,30.54 284.61,30.51 284.99,30.48 285.37,30.46 285.75,30.43 286.14,30.40 286.52,30.38 286.90,30.35 287.28,30.33 287.67,30.30 288.05,30.27 288.43,30.25 288.81,30.22 289.19,30.20 289.58,30.17 289.96,30.14 290.34,30.12 290.72,30.09 291.11,30.07 291.49,30.04 291.87,30.02 292.25,29.99 292.63,29.97 293.02,29.94 293.40,29.92 293.78,29.89 294.16,29.87 294.55,29.84 294.93,29.82 295.31,29.79 295.69,29.77 296.08,29.75 296.46,29.72 296.84,29.70 297.22,29.67 297.60,29.65 297.99,29.63 298.37,29.60 298.75,29.58 299.13,29.56 299.52,29.53 299.90,29.51 300.28,29.49 300.66,29.46 301.04,29.44 301.43,29.42 301.81,29.40 302.19,29.37 302.57,29.35 302.96,29.33 303.34,29.31 303.72,29.29 304.10,29.27 304.48,29.24 304.87,29.22 305.25,29.20 305.63,29.18 306.01,29.16 306.40,29.14 306.78,29.12 307.16,29.10 307.54,29.08 307.92,29.06 308.31,29.04 308.69,29.02 309.07,29.00 309.45,28.98 309.84,28.96 310.22,28.94 310.60,28.92 310.98,28.90 311.36,28.89 311.75,28.87 312.13,28.85 312.51,28.83 312.89,28.81 313.28,28.80 313.66,28.78 314.04,28.76 314.42,28.74 314.80,28.73 315.19,28.71 315.57,28.69 315.95,28.68 316.33,28.66 316.72,28.64 317.10,28.63 317.48,28.61 317.86,28.60 318.24,28.58 318.63,28.57 319.01,28.55 319.39,28.54 319.77,28.52 320.16,28.51 320.54,28.50 320.92,28.48 321.30,28.47 321.68,28.45 322.07,28.44 322.45,28.43 322.83,28.42 323.21,28.40 323.60,28.39 323.98,28.38 324.36,28.37 324.74,28.36 325.12,28.34 325.51,28.33 325.89,28.32 326.27,28.31 326.65,28.30 327.04,28.29 327.42,28.28 327.80,28.27 328.18,28.26 328.56,28.25 328.95,28.24 329.33,28.23 329.71,28.23 330.09,28.22 330.48,28.21 330.86,28.20 331.24,28.19 331.62,28.19 332.00,28.18 332.39,28.17 332.77,28.17 333.15,28.16 333.53,28.15 333.92,28.15 334.30,28.14 334.68,28.14 335.06,28.13 335.44,28.13 335.83,28.12 336.21,28.12 336.59,28.12 336.97,28.11 337.36,28.11 337.74,28.11 338.12,28.10 338.50,28.10 338.88,28.10 339.27,28.10 339.65,28.09 340.03,28.09 340.41,28.09 340.80,28.09 341.18,28.09 341.56,28.09 341.94,28.09 342.32,28.09 342.71,28.09 343.09,28.09 343.47,28.09 343.85,28.09 344.24,28.09 344.62,28.10 345.00,28.10 345.38,28.10 345.76,28.10 346.15,28.11 346.53,28.11 346.91,28.11 347.29,28.11 347.68,28.12 348.06,28.12 348.44,28.13 348.82,28.13 349.20,28.13 349.59,28.14 349.97,28.14 350.35,28.15 350.73,28.15 351.12,28.16 351.50,28.16 351.88,28.17 352.26,28.18 352.64,28.18 353.03,28.19 353.41,28.19 353.79,28.20 354.17,28.21 354.56,28.22 354.94,28.22 355.32,28.23 355.70,28.24 356.08,28.24 356.47,28.25 356.85,28.26 357.23,28.27 357.61,28.28 358.00,28.29 358.38,28.29 358.76,28.30 359.14,28.31 359.52,28.32 359.91,28.33 360.29,28.34 360.67,28.35 361.05,28.36 361.44,28.37 361.82,28.38 362.20,28.39 362.58,28.40 362.96,28.41 363.35,28.42 363.73,28.43 364.11,28.44 364.49,28.45 364.88,28.46 365.26,28.47 365.64,28.48 366.02,28.49 366.40,28.50 366.79,28.51 367.17,28.52 367.55,28.53 367.93,28.55 368.32,28.56 368.70,28.57 369.08,28.58 369.46,28.59 369.84,28.60 370.23,28.61 370.61,28.63 370.99,28.64 371.37,28.65 371.76,28.66 372.14,28.67 372.52,28.68 372.90,28.70 373.28,28.71 373.67,28.72 374.05,28.73 374.43,28.74 374.81,28.76 375.20,28.77 375.58,28.78 375.96,28.79 376.34,28.81 376.72,28.82 377.11,28.83 377.49,28.84 377.87,28.85 378.25,28.87 378.64,28.88 379.02,28.89 379.40,28.90 379.78,28.92 380.16,28.93 380.55,28.94 380.93,28.95 381.31,28.96 381.69,28.98 382.08,28.99 382.46,29.00 382.84,29.01 383.22,29.02 383.60,29.04 383.99,29.05 384.37,29.06 384.75,29.07 385.13,29.08 385.52,29.10 385.90,29.11 386.28,29.12 386.66,29.13 387.04,29.14 387.43,29.15 387.81,29.16 388.19,29.18 388.57,29.19 388.96,29.20 389.34,29.21 389.72,29.22 390.10,29.23 390.48,29.24 390.87,29.25 391.25,29.26 391.63,29.27 392.01,29.28 392.40,29.29 392.78,29.31 393.16,29.32 393.54,29.33 393.92,29.34 394.31,29.35 394.69,29.35 395.07,29.36 395.45,29.37 395.84,29.38 396.22,29.39 396.60,29.40 396.98,29.41 397.36,29.42 397.75,29.43 398.13,29.44 398.51,29.45 398.89,29.45 399.28,29.46 399.66,29.47 400.04,29.48 400.42,29.49 400.80,29.49 401.19,29.50 401.57,29.51 401.95,29.51 402.33,29.52 402.72,29.53 403.10,29.53 403.48,29.54 403.86,29.55 404.24,29.55 404.63,29.56 405.01,29.56 405.39,29.57 405.77,29.57 406.16,29.58 406.54,29.58 406.92,29.59 407.30,29.59 407.68,29.60 408.07,29.60 408.45,29.61 408.83,29.61 409.21,29.61 409.60,29.62 409.98,29.62 410.36,29.62 410.74,29.62 411.12,29.63 411.51,29.63 411.89,29.63 412.27,29.63 412.65,29.63 413.04,29.63 413.42,29.63 413.80,29.63 414.18,29.63 414.56,29.63 414.95,29.63 415.33,29.63 415.71,29.63 416.09,29.63 416.48,29.63 416.86,29.63 417.24,29.63 417.62,29.62 418.00,29.62 418.39,29.62 418.77,29.62 419.15,29.61 419.53,29.61 419.92,29.61 420.30,29.60 420.68,29.60 421.06,29.59 421.44,29.59 421.83,29.58 422.21,29.58 422.59,29.57 422.97,29.56 423.36,29.56 423.74,29.55 424.12,29.54 424.50,29.54 424.88,29.53 425.27,29.52 425.65,29.51 426.03,29.50 426.41,29.49 426.80,29.48 427.18,29.47 427.56,29.46 427.94,29.45 428.32,29.44 428.71,29.43 429.09,29.42 429.47,29.41 429.85,29.39 430.24,29.38 430.62,29.37 431.00,29.35 431.38,29.34 431.76,29.32 432.15,29.31 432.53,29.30 432.91,29.28 433.29,29.26 433.68,29.25 434.06,29.23 434.44,29.21 434.82,29.20 435.20,29.18 435.59,29.16 435.97,29.14 436.35,29.13 436.73,29.11 437.12,29.09 437.50,29.07 437.88,29.05 438.26,29.03 438.64,29.01 439.03,28.99 439.41,28.96 439.79,28.94 440.17,28.92 440.56,28.90 440.94,28.88 441.32,28.85 441.70,28.83 442.08,28.81 442.47,28.78 442.85,28.76 443.23,28.73 443.61,28.71 444.00,28.68 444.38,28.66 444.76,28.63 445.14,28.61 445.52,28.58 445.91,28.55 446.29,28.52 446.67,28.50 447.05,28.47 447.44,28.44 447.82,28.41 448.20,28.38 448.58,28.36 448.97,28.33 449.35,28.30 449.73,28.27 450.11,28.24 450.49,28.21 450.88,28.18 451.26,28.15 451.64,28.11 452.02,28.08 452.41,28.05 452.79,28.02 453.17,27.99 453.55,27.95 453.93,27.92 454.32,27.89 454.70,27.85 455.08,27.82 455.46,27.79 455.85,27.75 456.23,27.72 456.61,27.68 456.99,27.65 457.37,27.61 457.76,27.58 458.14,27.54 458.52,27.51 458.90,27.47 459.29,27.43 459.67,27.40 460.05,27.36 460.43,27.32 460.81,27.28 461.20,27.25 461.58,27.21 461.96,27.17 462.34,27.13 462.73,27.09 463.11,27.05 463.49,27.01 463.87,26.97 464.25,26.93 464.64,26.89 465.02,26.85 465.40,26.81 465.78,26.77 466.17,26.73 466.55,26.69 466.93,26.65 467.31,26.61 467.69,26.57 468.08,26.52 468.46,26.48 468.84,26.44 469.22,26.40 469.61,26.35 469.99,26.31 470.37,26.27 470.75,26.22 471.13,26.18 471.52,26.14 471.90,26.09 472.28,26.05 472.66,26.00 473.05,25.96 473.43,25.91 473.81,25.87 474.19,25.82 474.57,25.78 474.96,25.73 475.34,25.69 475.72,25.64 476.10,25.59 476.49,25.55 476.87,25.50 477.25,25.45 477.63,25.41 478.01,25.36 478.40,25.31 478.78,25.26 479.16,25.22 479.54,25.17 479.93,25.12 480.31,25.07 480.69,25.02 481.07,24.98 481.45,24.93 481.84,24.88 482.22,24.83 482.60,24.78 482.98,24.73 483.37,24.68 483.75,24.63 484.13,24.58 484.51,24.53 484.89,24.48 485.28,24.43 485.66,24.38 486.04,24.33 486.42,24.28 486.81,24.23 487.19,24.18 487.57,24.13 487.95,24.07 488.33,24.02 488.72,23.97 489.10,23.92 489.48,23.87 489.86,23.82 490.25,23.76 490.63,23.71 491.01,23.66 491.39,23.61 491.77,23.55 492.16,23.50 492.54,23.45 492.92,23.40 493.30,23.34 493.69,23.29 494.07,23.24 494.45,23.18 494.83,23.13 495.21,23.08 495.60,23.02 495.98,22.97 496.36,22.91 496.74,22.86 497.13,22.81 497.51,22.75 497.89,22.70 498.27,22.64 498.65,22.59 499.04,22.53 499.42,22.48 499.80,22.42 500.18,22.37 500.57,22.31 500.95,22.26 501.33,22.20 501.71,22.15 502.09,22.09 502.48,22.04 502.86,21.98 503.24,21.93 503.62,21.87 504.01,21.81 504.39,21.76 504.77,21.70 505.15,21.65 505.53,21.59 505.92,21.54 506.30,21.48 506.68,21.42 507.06,21.37 507.45,21.31 507.83,21.25 508.21,21.20 508.59,21.14 508.97,21.08 509.36,21.03 509.74,20.97 510.12,20.91 510.50,20.86 510.89,20.80 511.27,20.74 511.65,20.69 512.03,20.63 512.41,20.57 512.80,20.52 513.18,20.46 513.56,20.40 513.94,20.34 514.33,20.29 514.71,20.23 515.09,20.17 515.47,20.12 515.85,20.06 516.24,20.00 516.62,19.94 517.00,19.89 517.38,19.83 517.77,19.77 518.15,19.71 518.53,19.66 518.91,19.60 519.29,19.54 519.68,19.48 520.06,19.43 520.44,19.37 520.82,19.31 521.21,19.25 521.59,19.20 521.97,19.14" fill="none" stroke="#000" stroke-width="1.5" stroke-dasharray="6.3 5.74" stroke-dashoffset="0.00"/>
<circle cx="109.17" cy="248.58" r="5.40" fill="#fff" stroke="#000" stroke-width="1.30"/><path d="M109.17,243.18 A5.40,5.40 0 0 0 109.17,253.98 Z" fill="#000"/>
<circle cx="132.10" cy="206.02" r="5.40" fill="#fff" stroke="#000" stroke-width="1.30"/><path d="M132.10,200.62 A5.40,5.40 0 0 0 132.10,211.42 Z" fill="#000"/>
<circle cx="155.03" cy="182.34" r="5.40" fill="#fff" stroke="#000" stroke-width="1.30"/><path d="M155.03,176.94 A5.40,5.40 0 0 0 155.03,187.74 Z" fill="#000"/>
<circle cx="200.90" cy="169.54" r="5.40" fill="#fff" stroke="#000" stroke-width="1.30"/><path d="M200.90,164.14 A5.40,5.40 0 0 0 200.90,174.94 Z" fill="#000"/>
<circle cx="246.77" cy="166.34" r="5.40" fill="#fff" stroke="#000" stroke-width="1.30"/><path d="M246.77,160.94 A5.40,5.40 0 0 0 246.77,171.74 Z" fill="#000"/>
<circle cx="338.50" cy="166.66" r="5.40" fill="#fff" stroke="#000" stroke-width="1.30"/><path d="M338.50,161.26 A5.40,5.40 0 0 0 338.50,172.06 Z" fill="#000"/>
<circle cx="430.24" cy="164.42" r="5.40" fill="#fff" stroke="#000" stroke-width="1.30"/><path d="M430.24,159.02 A5.40,5.40 0 0 0 430.24,169.82 Z" fill="#000"/>
<circle cx="521.97" cy="165.70" r="5.40" fill="#fff" stroke="#000" stroke-width="1.30"/><path d="M521.97,160.30 A5.40,5.40 0 0 0 521.97,171.10 Z" fill="#000"/>
<g stroke="#000" stroke-width="1.60"><line x1="109.17" y1="243.18" x2="109.17" y2="222.98"/><line x1="109.17" y1="253.98" x2="109.17" y2="274.18"/><line x1="105.77" y1="222.98" x2="112.57" y2="222.98"/><line x1="105.77" y1="274.18" x2="112.57" y2="274.18"/></g>
<g stroke="#000" stroke-width="1.60"><line x1="132.10" y1="200.62" x2="132.10" y2="192.58"/><line x1="132.10" y1="211.42" x2="132.10" y2="219.46"/><line x1="128.70" y1="192.58" x2="135.50" y2="192.58"/><line x1="128.70" y1="219.46" x2="135.50" y2="219.46"/></g>
<g stroke="#000" stroke-width="1.60"><line x1="151.63" y1="182.21" x2="158.43" y2="182.21"/><line x1="151.63" y1="182.47" x2="158.43" y2="182.47"/></g>
<g stroke="#000" stroke-width="1.60"><line x1="200.90" y1="164.14" x2="200.90" y2="161.86"/><line x1="200.90" y1="174.94" x2="200.90" y2="177.22"/><line x1="197.50" y1="161.86" x2="204.30" y2="161.86"/><line x1="197.50" y1="177.22" x2="204.30" y2="177.22"/></g>
<g stroke="#000" stroke-width="1.60"><line x1="246.77" y1="160.94" x2="246.77" y2="158.02"/><line x1="246.77" y1="171.74" x2="246.77" y2="174.66"/><line x1="243.37" y1="158.02" x2="250.17" y2="158.02"/><line x1="243.37" y1="174.66" x2="250.17" y2="174.66"/></g>
<g stroke="#000" stroke-width="1.60"><line x1="335.10" y1="161.22" x2="341.90" y2="161.22"/><line x1="335.10" y1="172.10" x2="341.90" y2="172.10"/></g>
<g stroke="#000" stroke-width="1.60"><line x1="430.24" y1="159.02" x2="430.24" y2="156.74"/><line x1="430.24" y1="169.82" x2="430.24" y2="172.10"/><line x1="426.84" y1="156.74" x2="433.64" y2="156.74"/><line x1="426.84" y1="172.10" x2="433.64" y2="172.10"/></g>
<g stroke="#000" stroke-width="1.60"><line x1="521.97" y1="160.30" x2="521.97" y2="155.46"/><line x1="521.97" y1="171.10" x2="521.97" y2="175.94"/><line x1="518.57" y1="155.46" x2="525.37" y2="155.46"/><line x1="518.57" y1="175.94" x2="525.37" y2="175.94"/></g>
<circle cx="86.23" cy="287.94" r="5.40" fill="#000" stroke="#000" stroke-width="1.30"/>
<circle cx="109.17" cy="181.70" r="5.40" fill="#000" stroke="#000" stroke-width="1.30"/>
<circle cx="132.10" cy="113.86" r="5.40" fill="#000" stroke="#000" stroke-width="1.30"/>
<circle cx="155.03" cy="71.62" r="5.40" fill="#000" stroke="#000" stroke-width="1.30"/>
<circle cx="200.90" cy="38.98" r="5.40" fill="#000" stroke="#000" stroke-width="1.30"/>
<circle cx="246.77" cy="33.22" r="5.40" fill="#000" stroke="#000" stroke-width="1.30"/>
<circle cx="338.50" cy="28.10" r="5.40" fill="#000" stroke="#000" stroke-width="1.30"/>
<circle cx="430.24" cy="29.38" r="5.40" fill="#000" stroke="#000" stroke-width="1.30"/>
<circle cx="521.97" cy="19.14" r="5.40" fill="#000" stroke="#000" stroke-width="1.30"/>
<g stroke="#000" stroke-width="1.60"><line x1="86.23" y1="282.54" x2="86.23" y2="268.10"/><line x1="86.23" y1="293.34" x2="86.23" y2="307.78"/><line x1="82.83" y1="268.10" x2="89.63" y2="268.10"/><line x1="82.83" y1="307.78" x2="89.63" y2="307.78"/></g>
<g stroke="#000" stroke-width="1.60"><line x1="109.17" y1="176.30" x2="109.17" y2="159.30"/><line x1="109.17" y1="187.10" x2="109.17" y2="204.10"/><line x1="105.77" y1="159.30" x2="112.57" y2="159.30"/><line x1="105.77" y1="204.10" x2="112.57" y2="204.10"/></g>
<g stroke="#000" stroke-width="1.60"><line x1="132.10" y1="108.46" x2="132.10" y2="90.37"/><line x1="132.10" y1="119.26" x2="132.10" y2="137.35"/><line x1="128.70" y1="90.37" x2="135.50" y2="90.37"/><line x1="128.70" y1="137.35" x2="135.50" y2="137.35"/></g>
<g stroke="#000" stroke-width="1.60"><line x1="155.03" y1="66.22" x2="155.03" y2="50.50"/><line x1="155.03" y1="77.02" x2="155.03" y2="92.74"/><line x1="151.63" y1="50.50" x2="158.43" y2="50.50"/><line x1="151.63" y1="92.74" x2="158.43" y2="92.74"/></g>
<g stroke="#000" stroke-width="1.60"><line x1="200.90" y1="33.58" x2="200.90" y2="31.30"/><line x1="200.90" y1="44.38" x2="200.90" y2="46.66"/><line x1="197.50" y1="31.30" x2="204.30" y2="31.30"/><line x1="197.50" y1="46.66" x2="204.30" y2="46.66"/></g>
<g stroke="#000" stroke-width="1.60"><line x1="243.37" y1="30.02" x2="250.17" y2="30.02"/><line x1="243.37" y1="36.42" x2="250.17" y2="36.42"/></g>
<g stroke="#000" stroke-width="1.60"><line x1="338.50" y1="22.70" x2="338.50" y2="18.50"/><line x1="338.50" y1="33.50" x2="338.50" y2="37.70"/><line x1="335.10" y1="18.50" x2="341.90" y2="18.50"/><line x1="335.10" y1="37.70" x2="341.90" y2="37.70"/></g>
<g stroke="#000" stroke-width="1.60"><line x1="430.24" y1="23.98" x2="430.24" y2="22.34"/><line x1="430.24" y1="34.78" x2="430.24" y2="36.42"/><line x1="426.84" y1="22.34" x2="433.64" y2="22.34"/><line x1="426.84" y1="36.42" x2="433.64" y2="36.42"/></g>
<g stroke="#000" stroke-width="1.60"><line x1="521.97" y1="13.74" x2="521.97" y2="8.26"/><line x1="521.97" y1="24.54" x2="521.97" y2="30.02"/><line x1="518.57" y1="8.26" x2="525.37" y2="8.26"/><line x1="518.57" y1="30.02" x2="525.37" y2="30.02"/></g>
<circle cx="86.23" cy="322.50" r="5.40" fill="none" stroke="#000" stroke-width="1.30"/>
<circle cx="109.17" cy="287.94" r="5.40" fill="none" stroke="#000" stroke-width="1.30"/>
<circle cx="132.10" cy="276.42" r="5.40" fill="none" stroke="#000" stroke-width="1.30"/>
<circle cx="155.03" cy="271.30" r="5.40" fill="none" stroke="#000" stroke-width="1.30"/>
<circle cx="200.90" cy="270.02" r="5.40" fill="none" stroke="#000" stroke-width="1.30"/>
<circle cx="246.77" cy="269.38" r="5.40" fill="none" stroke="#000" stroke-width="1.30"/>
<circle cx="338.50" cy="270.02" r="5.40" fill="none" stroke="#000" stroke-width="1.30"/>
<circle cx="430.24" cy="270.02" r="5.40" fill="none" stroke="#000" stroke-width="1.30"/>
<circle cx="521.97" cy="268.74" r="5.40" fill="none" stroke="#000" stroke-width="1.30"/>
<g stroke="#000" stroke-width="1.60"></g>
<g stroke="#000" stroke-width="1.60"><line x1="109.17" y1="282.54" x2="109.17" y2="278.98"/><line x1="109.17" y1="293.34" x2="109.17" y2="296.90"/><line x1="105.77" y1="278.98" x2="112.57" y2="278.98"/><line x1="105.77" y1="296.90" x2="112.57" y2="296.90"/></g>
<g stroke="#000" stroke-width="1.60"><line x1="128.70" y1="271.30" x2="135.50" y2="271.30"/><line x1="128.70" y1="281.54" x2="135.50" y2="281.54"/></g>
<g stroke="#000" stroke-width="1.60"><line x1="155.03" y1="265.90" x2="155.03" y2="264.90"/><line x1="155.03" y1="276.70" x2="155.03" y2="277.70"/><line x1="151.63" y1="264.90" x2="158.43" y2="264.90"/><line x1="151.63" y1="277.70" x2="158.43" y2="277.70"/></g>
<g stroke="#000" stroke-width="1.60"><line x1="200.90" y1="264.62" x2="200.90" y2="263.30"/><line x1="200.90" y1="275.42" x2="200.90" y2="276.74"/><line x1="197.50" y1="263.30" x2="204.30" y2="263.30"/><line x1="197.50" y1="276.74" x2="204.30" y2="276.74"/></g>
<g stroke="#000" stroke-width="1.60"><line x1="246.77" y1="263.98" x2="246.77" y2="262.34"/><line x1="246.77" y1="274.78" x2="246.77" y2="276.42"/><line x1="243.37" y1="262.34" x2="250.17" y2="262.34"/><line x1="243.37" y1="276.42" x2="250.17" y2="276.42"/></g>
<g stroke="#000" stroke-width="1.60"><line x1="338.50" y1="264.62" x2="338.50" y2="262.34"/><line x1="338.50" y1="275.42" x2="338.50" y2="277.70"/><line x1="335.10" y1="262.34" x2="341.90" y2="262.34"/><line x1="335.10" y1="277.70" x2="341.90" y2="277.70"/></g>
<g stroke="#000" stroke-width="1.60"><line x1="430.24" y1="264.62" x2="430.24" y2="262.66"/><line x1="430.24" y1="275.42" x2="430.24" y2="277.38"/><line x1="426.84" y1="262.66" x2="433.64" y2="262.66"/><line x1="426.84" y1="277.38" x2="433.64" y2="277.38"/></g>
<g stroke="#000" stroke-width="1.60"><line x1="521.97" y1="263.34" x2="521.97" y2="261.38"/><line x1="521.97" y1="274.14" x2="521.97" y2="276.10"/><line x1="518.57" y1="261.38" x2="525.37" y2="261.38"/><line x1="518.57" y1="276.10" x2="525.37" y2="276.10"/></g>
<g font-size="17.5" fill="#000"><text x="51.8" y="357.20" text-anchor="end" dominant-baseline="central">0</text>
<text x="51.8" y="293.20" text-anchor="end" dominant-baseline="central">10</text>
<text x="51.8" y="229.20" text-anchor="end" dominant-baseline="central">20</text>
<text x="51.8" y="165.20" text-anchor="end" dominant-baseline="central">30</text>
<text x="51.8" y="101.20" text-anchor="end" dominant-baseline="central">40</text>
<text x="51.8" y="37.20" text-anchor="end" dominant-baseline="central">50</text>
<text x="63.30" y="381.7" text-anchor="middle">0</text>
<text x="155.03" y="381.7" text-anchor="middle">60</text>
<text x="246.77" y="381.7" text-anchor="middle">120</text>
<text x="338.50" y="381.7" text-anchor="middle">180</text>
<text x="430.24" y="381.7" text-anchor="middle">240</text>
<text x="521.97" y="381.7" text-anchor="middle">300</text></g>
<text x="303.7" y="411.3" text-anchor="middle" font-weight="bold" font-size="17.5">Time (min)</text>
<text transform="translate(20.2,181.7) rotate(-90)" text-anchor="middle" font-weight="bold" font-size="17.5">Amount released (mg)</text>
<g><rect x="436.7" y="285.8" width="89.2" height="61.5" fill="#fff" stroke="#333" stroke-width="1"/>
<line x1="438.2" y1="296.80" x2="444.7" y2="296.80" stroke="#000" stroke-width="1.5"/>
<line x1="464.9" y1="296.80" x2="470.6" y2="296.80" stroke="#000" stroke-width="1.5"/>
<circle cx="456.85" cy="296.80" r="5.40" fill="none" stroke="#000" stroke-width="1.30"/>
<text x="479.4" y="301.40" font-size="15.5" letter-spacing="0.3">15 mg</text>
<line x1="438.2" y1="317.00" x2="444.7" y2="317.00" stroke="#000" stroke-width="1.5"/>
<line x1="464.9" y1="317.00" x2="470.6" y2="317.00" stroke="#000" stroke-width="1.5"/>
<circle cx="456.85" cy="317.00" r="5.40" fill="#fff" stroke="#000" stroke-width="1.30"/><path d="M456.85,311.60 A5.40,5.40 0 0 0 456.85,322.40 Z" fill="#000"/>
<text x="479.4" y="321.60" font-size="15.5" letter-spacing="0.3">30 mg</text>
<line x1="438.2" y1="337.20" x2="444.7" y2="337.20" stroke="#000" stroke-width="1.5"/>
<line x1="464.9" y1="337.20" x2="470.6" y2="337.20" stroke="#000" stroke-width="1.5"/>
<circle cx="456.85" cy="337.20" r="5.40" fill="#000" stroke="#000" stroke-width="1.30"/>
<text x="479.4" y="341.80" font-size="15.5" letter-spacing="0.3">50 mg</text></g>
</svg>
</body></html>
